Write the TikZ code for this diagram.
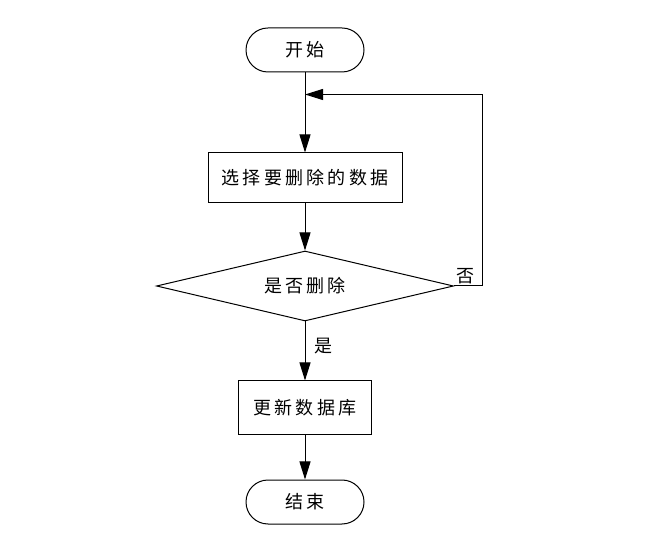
\documentclass[tikz,border=0pt]{standalone}
\usepackage{fontspec}
\newfontfamily\cjk[LetterSpace=18]{Noto Sans CJK SC}
\usetikzlibrary{arrows.meta, positioning, shapes.geometric}

\begin{document}
\begin{tikzpicture}[
    x=1pt, y=1pt,
    font=\cjk\fontsize{18pt}{21pt}\selectfont,
    line width=1pt,
    terminal/.style={draw, rounded corners=22pt, minimum width=118pt, minimum height=44pt},
    box/.style={draw, align=center, minimum height=50pt},
    decision/.style={draw, diamond, aspect=4.24, minimum width=297pt, minimum height=70pt, inner sep=0pt},
    >={Triangle[length=18pt, width=11pt]}
  ]
    \useasboundingbox (0,0) rectangle (671,535);

    \node[terminal] (start) at (305,485) {开始};
    \node[box, minimum width=194pt, below=80pt of start] (select) {选择要删除的数据};
    \node[decision, below=47pt of select] (decide) {是否删除};
    \node[box, minimum width=133pt, minimum height=54pt, below=59pt of decide] (update) {更新数据库};
    \node[terminal, below=44pt of update] (finish) {结束};
    \coordinate[below=22pt of start.south] (back);

    \draw[->] (start) -- (select);
    \draw[->] (select) -- (decide);
    \draw[->] (decide) -- node[pos=0.42, right=6pt] {是} (update);
    \draw[->] (update) -- (finish);
    % loop back when not deleted
    \draw[->] (decide.east) -- ++(28,0) |- (back);
    \node[anchor=south west, inner sep=2pt] at (decide.east) {否};
  \end{tikzpicture}
\end{document}
